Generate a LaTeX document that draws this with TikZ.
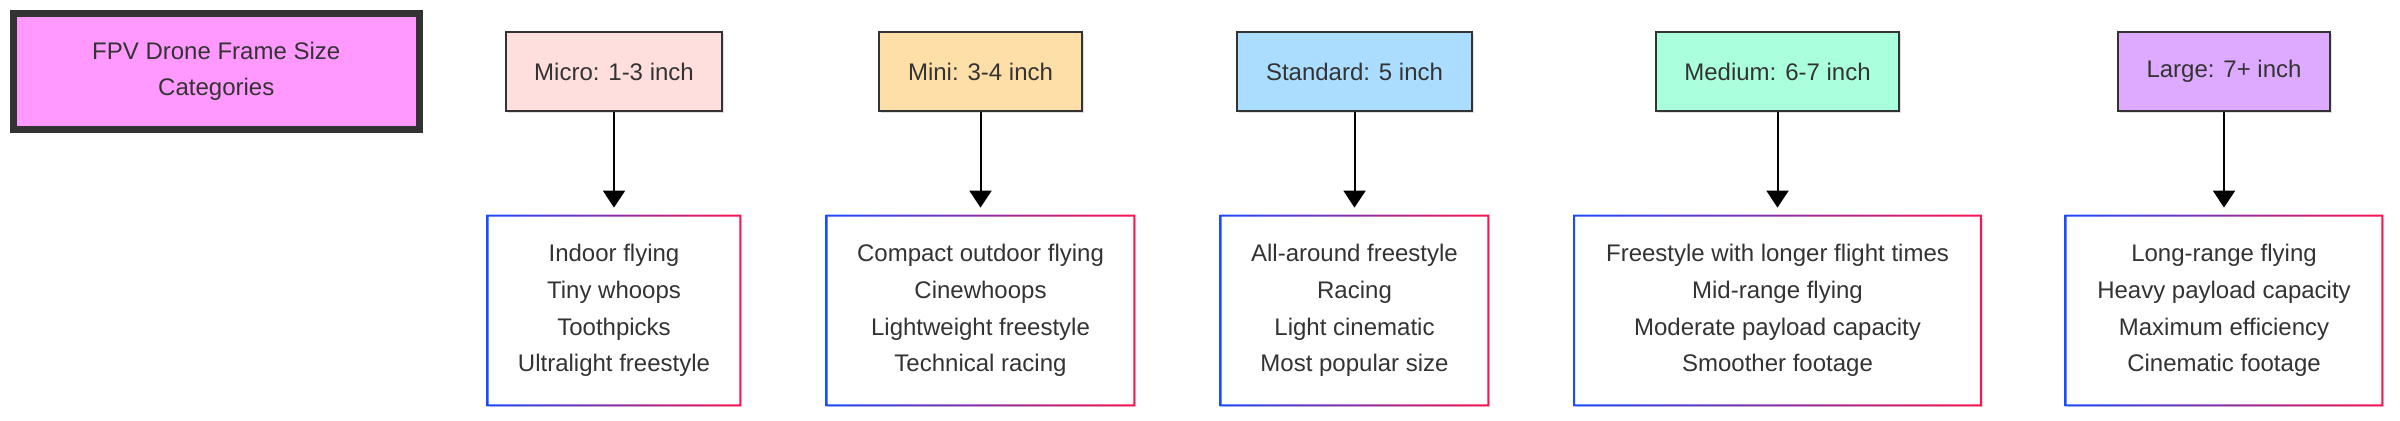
\documentclass[tikz,border=0pt]{standalone}
\usepackage{fontspec}
\setmainfont{Liberation Sans}
\usetikzlibrary{arrows.meta,shadows}
\definecolor{txt}{HTML}{333333}
\definecolor{titlefill}{HTML}{FF99FF}
\definecolor{cmicro}{HTML}{FFDEDE}
\definecolor{cmini}{HTML}{FFDFA8}
\definecolor{cstd}{HTML}{AADDFF}
\definecolor{cmed}{HTML}{AAFFDD}
\definecolor{clarge}{HTML}{DDAAFF}
\definecolor{gblue}{HTML}{1A4BFF}
\definecolor{gred}{HTML}{FF1450}
\begin{document}
\begin{tikzpicture}[x=0.5pt,y=-0.5pt,
  font=\fontsize{12}{18.35}\selectfont, text=txt,
  shadowed/.style={drop shadow={shadow xshift=1.2pt,shadow yshift=-1.2pt,opacity=0.12,fill=black}},
  titlebox/.style={draw=txt, line width=3.5pt, fill=titlefill, minimum width=202.75pt,
    minimum height=57.75pt, inner sep=0pt, align=center, shadowed},
  catbox/.style={draw=txt, line width=0.75pt, minimum height=39.5pt, inner sep=0pt, shadowed},
  descbox/.style={fill=white, minimum height=94.5pt, inner sep=0pt, align=center, shadowed},
  arr/.style={-{Triangle[width=11pt,length=8.5pt]}, line width=1pt, draw=black, shorten >=4pt}]
\useasboundingbox (0,0) rectangle (2400,420);

\node[titlebox] (title) at (216.25,71.25) {FPV Drone Frame Size\\Categories};

\node[catbox, fill=cmicro, minimum width=108pt]   (t1) at (614,71.5)    {Micro: 1-3 inch};
\node[catbox, fill=cmini,  minimum width=101.5pt] (t2) at (980.5,71.5)  {Mini: 3-4 inch};
\node[catbox, fill=cstd,   minimum width=117.5pt] (t3) at (1354.5,71.5) {Standard: 5 inch};
\node[catbox, fill=cmed,   minimum width=121.5pt] (t4) at (1777.5,71.5) {Medium: 6-7 inch};
\node[catbox, fill=clarge, minimum width=106pt]   (t5) at (2224,71.5)   {Large: 7+ inch};

\node[descbox, minimum width=126pt]   (b1) at (614,310.5)    {Indoor flying\\Tiny whoops\\Toothpicks\\Ultralight freestyle};
\node[descbox, minimum width=153.5pt] (b2) at (980.5,310.5)  {Compact outdoor flying\\Cinewhoops\\Lightweight freestyle\\Technical racing};
\node[descbox, minimum width=133.5pt] (b3) at (1354.5,310.5) {All-around freestyle\\Racing\\Light cinematic\\Most popular size};
\node[descbox, minimum width=203pt]   (b4) at (1777.5,310.5) {Freestyle with longer flight times\\Mid-range flying\\Moderate payload capacity\\Smoother footage};
\node[descbox, minimum width=158pt]   (b5) at (2224,310.5)   {Long-range flying\\Heavy payload capacity\\Maximum efficiency\\Cinematic footage};

\foreach \n in {b1,b2,b3,b4,b5} {
  \shade[left color=gblue, right color=gred, even odd rule]
    ([shift={(-0.5pt,0.5pt)}]\n.north west) rectangle ([shift={(0.5pt,-0.5pt)}]\n.south east)
    ([shift={(0.5pt,-0.5pt)}]\n.north west) rectangle ([shift={(-0.5pt,0.5pt)}]\n.south east);
}

\foreach \i in {1,...,5} {
  \draw[arr] (t\i.south) -- (b\i.north);
}
\end{tikzpicture}
\end{document}
